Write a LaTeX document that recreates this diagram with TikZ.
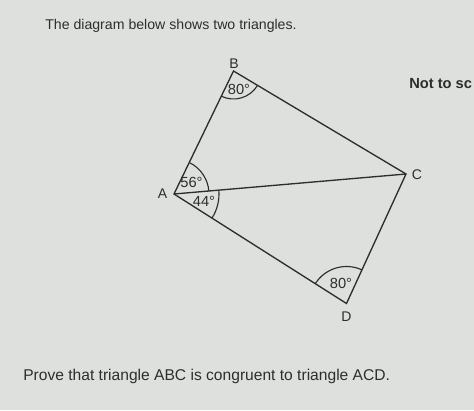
\documentclass[tikz,border=0pt]{standalone}
\usepackage{fontspec}
\setmainfont{Liberation Sans}
\usetikzlibrary{angles}
\definecolor{paper}{RGB}{222,224,222}
\definecolor{ink}{RGB}{45,45,45}

\begin{document}
\begin{tikzpicture}[
    x=0.75pt, y=-0.75pt,
    edge/.style={draw=ink, line width=1pt},
    arc/.style={draw=ink, line width=0.85pt},
    vlabel/.style={text=ink, inner sep=0pt, font=\fontsize{10.5}{12}\selectfont},
    alabel/.style={text=ink, inner sep=0pt, font=\fontsize{11}{13}\selectfont},
    question/.style={text=ink, inner sep=0pt, anchor=west}
  ]
  \fill[paper] (0,0) rectangle (474,410);
  \useasboundingbox (0,0) rectangle (474,410);
  \clip (0,0) rectangle (474,410);

  % vertices
  \coordinate (A) at (174,194);
  \coordinate (B) at (233.5,71);
  \coordinate (C) at (406,174);
  \coordinate (D) at (346.5,303.5);

  % the two triangles
  \draw[edge] (A) -- (B) -- (C) -- (D) -- cycle;
  \draw[edge] (A) -- (C);

  % angle marks
  \pic[arc, angle radius=21pt] {angle=A--B--C};
  \pic[arc, angle radius=26.25pt] {angle=C--A--B};
  \pic[arc, angle radius=33.75pt] {angle=D--A--C};
  \pic[arc, angle radius=27.75pt] {angle=C--D--A};

  \node[vlabel] (labA) at (162.5,194) {A};
  \node[vlabel] (labB) at (234,63.5) {B};
  \node[vlabel] (labC) at (417,175) {C};
  \node[vlabel] (labD) at (346.5,316.5) {D};

  \node[alabel] (angB) at (239,89) {80\textdegree};
  \node[alabel] (angBAC) at (191.5,182.5) {56\textdegree};
  \node[alabel] (angCAD) at (204,201.5) {44\textdegree};
  \node[alabel] (angD) at (341,283.5) {80\textdegree};

  % texts
  \node[question, font=\fontsize{10.6}{12}\selectfont] (intro) at (45,26) {The diagram below shows two triangles.};
  \node[question, font=\bfseries\fontsize{11}{13}\selectfont] (scale) at (409,84) {Not to sc};
  \node[question, font=\fontsize{11.7}{14}\selectfont] (prove) at (23,376) {Prove that triangle ABC is congruent to triangle ACD.};
\end{tikzpicture}
\end{document}
